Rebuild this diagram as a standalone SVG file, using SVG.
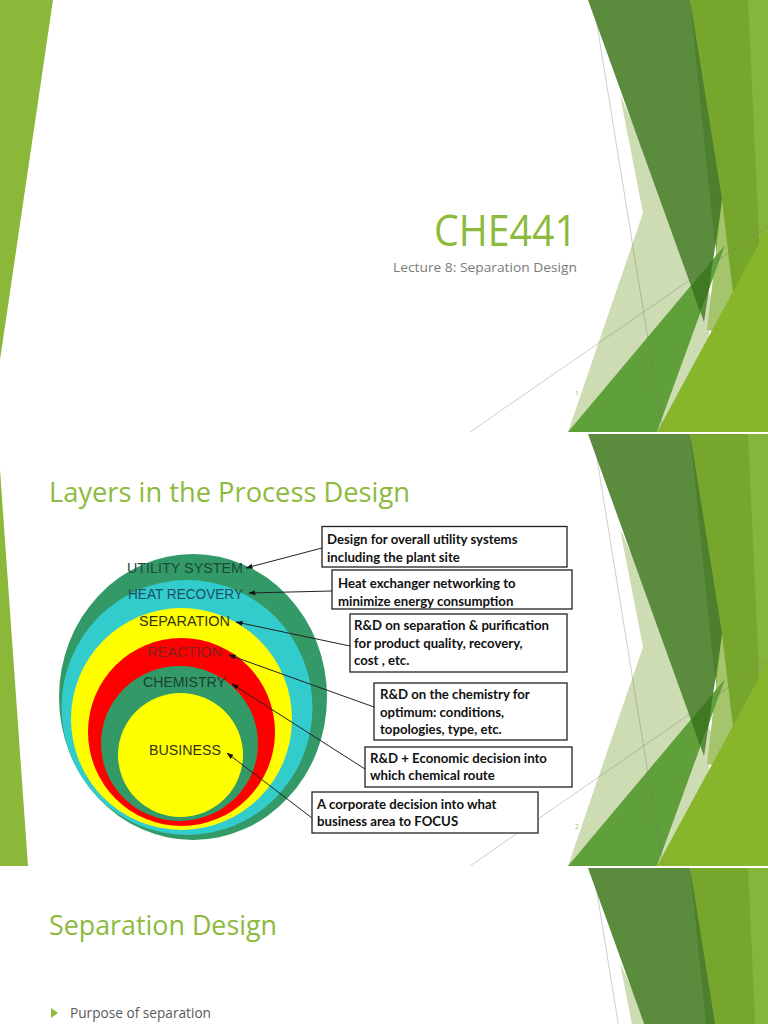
<svg xmlns="http://www.w3.org/2000/svg" width="768" height="1024" viewBox="0 0 768 1024">
<style>
.title{font-family:"Open Sans","Noto Sans",sans-serif;fill:#8cba3c;}
.sub{font-family:"Open Sans","Noto Sans",sans-serif;fill:#7a7a7a;}
.pg{font-family:"Open Sans",sans-serif;font-size:7px;fill:#9bc44a;}
.lbl{font-family:"Liberation Sans",Arial,sans-serif;font-size:14px;}
.box{fill:#ffffff;stroke:#222;stroke-width:1.3;}
.bt{font-family:Lato,"Liberation Sans",sans-serif;font-weight:bold;font-size:13.2px;fill:#111;}
.conn{stroke:#222;stroke-width:1;fill:none;marker-end:url(#ah);}
.thin{stroke:#777;stroke-opacity:0.45;stroke-width:0.8;}
</style>
<defs>
<marker id="ah" markerWidth="7" markerHeight="6" refX="6.5" refY="3" orient="auto" markerUnits="userSpaceOnUse">
<path d="M0,0.5 L7,3 L0,5.5 Z" fill="#111"/>
</marker>
<g id="facet">
<polygon fill="#cddcb2" points="620,95 643,213 568,432 700,432 712,300"/>
<polygon fill="#77a62c" points="690,0 768,0 768,432 735,432"/>
<polygon fill="#86b53c" points="748,0 768,0 768,432"/>
<polygon fill="#5b8b3d" points="588,0 690,0 722,200 704,322"/>
<polygon fill="#4e7f2e" points="690,0 722,200 715,245"/>
<polygon fill="#a4c56c" points="722,200 738,335 707,330"/>
<polygon fill="#5fa03b" points="568,432 657,432 725,245"/>
<polygon fill="#3f7a22" points="691,286 713,259 709,290 700,312"/>
<polygon fill="#87b62b" points="657,432 768,227 768,432"/>
<line class="thin" x1="593" y1="0" x2="663" y2="432"/>
<line class="thin" x1="470" y1="432" x2="768" y2="226"/>
</g>
<clipPath id="s1"><rect x="0" y="0" width="768" height="432"/></clipPath>
</defs>
<rect x="0" y="0" width="768" height="1024" fill="#ffffff"/>

<!-- Slide 1 -->
<g id="slide1">
<polygon fill="#8cb83a" points="0,0 53,0 0,360"/>
<use href="#facet" clip-path="url(#s1)"/>
<text class="title" x="577" y="246" font-size="44" text-anchor="end" textLength="143" lengthAdjust="spacingAndGlyphs">CHE441</text>
<text class="sub" x="577" y="272" font-size="13" text-anchor="end" textLength="184" lengthAdjust="spacingAndGlyphs">Lecture 8: Separation Design</text>
<text class="pg" x="575" y="396">1</text>
</g>

<!-- Slide 2 -->
<g id="slide2">
<polygon fill="#8cb83a" points="0,470 28,866 0,866"/>
<g transform="translate(0,434)"><use href="#facet" clip-path="url(#s1)"/></g>
<text class="title" x="49" y="502" font-size="28" textLength="361" lengthAdjust="spacingAndGlyphs">Layers in the Process Design</text>
<text class="pg" x="575" y="829">2</text>

<g id="circles">
<ellipse cx="193" cy="697" rx="134" ry="143" fill="#339966"/>
<ellipse cx="187" cy="707.5" rx="125.5" ry="127.5" fill="#33cccc"/>
<ellipse cx="181.5" cy="719" rx="110.5" ry="111" fill="#ffff00"/>
<ellipse cx="181.5" cy="732" rx="93.5" ry="94" fill="#ff0000"/>
<ellipse cx="179.5" cy="743.5" rx="78.5" ry="77.5" fill="#339966"/>
<ellipse cx="180.5" cy="755" rx="62.5" ry="62" fill="#ffff00"/>
</g>
<g id="labels">
<text id="l-utility" class="lbl" x="127" y="573" fill="#1f4a3b" textLength="116" lengthAdjust="spacingAndGlyphs">UTILITY SYSTEM</text>
<text id="l-heat" class="lbl" x="128" y="599" fill="#1a4f63" textLength="115" lengthAdjust="spacingAndGlyphs">HEAT RECOVERY</text>
<text id="l-sep" class="lbl" x="139" y="626" fill="#33330f" textLength="91" lengthAdjust="spacingAndGlyphs">SEPARATION</text>
<text id="l-react" class="lbl" x="147" y="657" fill="#7f2222" textLength="75" lengthAdjust="spacingAndGlyphs">REACTION</text>
<text id="l-chem" class="lbl" x="143" y="687" fill="#1a4233" textLength="83" lengthAdjust="spacingAndGlyphs">CHEMISTRY</text>
<text id="l-bus" class="lbl" x="149" y="755" fill="#33330f" textLength="72" lengthAdjust="spacingAndGlyphs">BUSINESS</text>
</g>

<g id="connectors">
<line class="conn" x1="322" y1="548" x2="246" y2="568"/>
<line class="conn" x1="332" y1="591" x2="249" y2="593"/>
<line class="conn" x1="350" y1="646" x2="236" y2="622"/>
<line class="conn" x1="374" y1="707" x2="229" y2="655"/>
<line class="conn" x1="365" y1="769" x2="232" y2="684"/>
<line class="conn" x1="312" y1="818" x2="227" y2="753"/>
</g>

<g id="box1">
<rect class="box" x="322" y="526.5" width="245" height="40.5"/>
<text class="bt" x="327" y="544">Design for overall utility systems</text>
<text class="bt" x="327" y="561.5">including the plant site</text>
</g>
<g id="box2">
<rect class="box" x="332" y="570" width="240" height="39"/>
<text class="bt" x="338" y="588">Heat exchanger networking to</text>
<text class="bt" x="338" y="605.5">minimize energy consumption</text>
</g>
<g id="box3">
<rect class="box" x="350" y="614" width="217" height="58"/>
<text class="bt" x="354" y="630">R&amp;D on separation &amp; purification</text>
<text class="bt" x="354" y="647.5">for product quality, recovery,</text>
<text class="bt" x="354" y="665">cost , etc.</text>
</g>
<g id="box4">
<rect class="box" x="374" y="683" width="193" height="57"/>
<text class="bt" x="380" y="699">R&amp;D on the chemistry for</text>
<text class="bt" x="380" y="716.5">optimum: conditions,</text>
<text class="bt" x="380" y="734">topologies, type, etc.</text>
</g>
<g id="box5">
<rect class="box" x="365" y="747" width="207" height="40"/>
<text class="bt" x="370" y="763">R&amp;D + Economic decision into</text>
<text class="bt" x="370" y="780">which chemical route</text>
</g>
<g id="box6">
<rect class="box" x="312" y="792" width="226" height="41"/>
<text class="bt" x="317" y="809">A corporate decision into what</text>
<text class="bt" x="317" y="826">business area to FOCUS</text>
</g>
</g>

<!-- Slide 3 -->
<g id="slide3">
<g transform="translate(0,868)"><use href="#facet"/></g>
<text class="title" x="49" y="935" font-size="28" textLength="228" lengthAdjust="spacingAndGlyphs">Separation Design</text>
<polygon fill="#8cba3c" points="51,1008 58,1013 51,1018"/>
<text class="sub" x="70" y="1018" font-size="14" style="fill:#595959" textLength="141" lengthAdjust="spacingAndGlyphs">Purpose of separation</text>
</g>
</svg>
